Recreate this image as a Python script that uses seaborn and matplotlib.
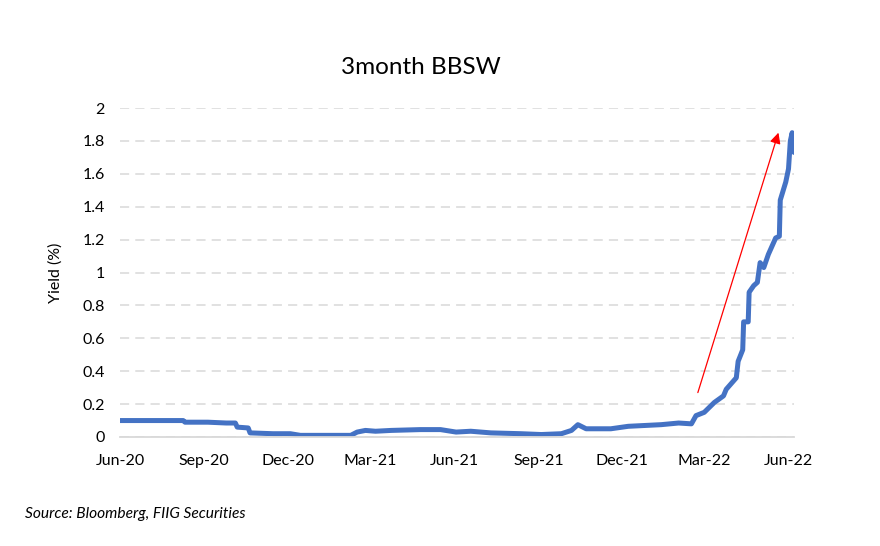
import matplotlib
matplotlib.use('Agg')
import matplotlib.pyplot as plt
import matplotlib.dates as mdates
import pandas as pd
import seaborn as sns

# 3 month BBSW yield (%)
dates = [
    '2020-06-01', '2020-06-20', '2020-07-15', '2020-08-09', '2020-08-11',
    '2020-09-05', '2020-09-25', '2020-10-05', '2020-10-07', '2020-10-19',
    '2020-10-21', '2020-11-15', '2020-12-04', '2020-12-15', '2021-01-10',
    '2021-02-08', '2021-02-15', '2021-02-24', '2021-03-07', '2021-03-24',
    '2021-04-25', '2021-05-17', '2021-06-03', '2021-06-19', '2021-07-11',
    '2021-08-13', '2021-09-04', '2021-09-26', '2021-10-07', '2021-10-14',
    '2021-10-23', '2021-11-19', '2021-12-08', '2022-01-13', '2022-02-01',
    '2022-02-15', '2022-02-20', '2022-03-01', '2022-03-12', '2022-03-22',
    '2022-03-25', '2022-04-05', '2022-04-07', '2022-04-12', '2022-04-13',
    '2022-04-18', '2022-04-19', '2022-04-24', '2022-04-28', '2022-05-01',
    '2022-05-05', '2022-05-10', '2022-05-18', '2022-05-22', '2022-05-23',
    '2022-05-29', '2022-06-01', '2022-06-03', '2022-06-05', '2022-06-07',
]
yields = [
    0.10, 0.10, 0.10, 0.10, 0.09,
    0.09, 0.085, 0.085, 0.06, 0.055,
    0.025, 0.02, 0.02, 0.01, 0.01,
    0.01, 0.03, 0.04, 0.035, 0.04,
    0.045, 0.045, 0.03, 0.035, 0.025,
    0.02, 0.015, 0.02, 0.04, 0.075,
    0.05, 0.05, 0.065, 0.075, 0.085,
    0.08, 0.13, 0.15, 0.21, 0.25,
    0.29, 0.36, 0.46, 0.53, 0.70,
    0.70, 0.88, 0.92, 0.94, 1.06,
    1.03, 1.11, 1.21, 1.22, 1.44,
    1.55, 1.63, 1.80, 1.85, 1.73,
]

arrow_start = ('2022-02-22', 0.27)
arrow_end = ('2022-05-21', 1.85)

title = '3month BBSW'
source = 'Source: Bloomberg, FIIG Securities'

df = pd.DataFrame({'date': pd.to_datetime(dates), 'yield': yields})

sns.set_style('white')
plt.rcParams['font.family'] = ['Lato', 'DejaVu Sans']
plt.rcParams['text.color'] = 'black'
plt.rcParams['axes.labelcolor'] = 'black'
plt.rcParams['xtick.labelcolor'] = 'black'
plt.rcParams['ytick.labelcolor'] = 'black'

fig = plt.figure(figsize=(8.8, 5.46), dpi=100)
ax = fig.add_axes([120 / 880, 1 - 437 / 546, 674 / 880, 329 / 546])

sns.lineplot(data=df, x='date', y='yield', ax=ax, color='#4472C4', linewidth=3.6,
             solid_joinstyle='round', solid_capstyle='round')

ax.set_ylim(0, 2)
ax.set_yticks([i / 10 for i in range(0, 21, 2)])
ax.set_yticklabels(['0', '0.2', '0.4', '0.6', '0.8', '1', '1.2', '1.4', '1.6', '1.8', '2'])
ax.set_xlim(pd.Timestamp('2020-06-01'), pd.Timestamp('2022-06-07'))
ax.xaxis.set_major_locator(mdates.MonthLocator(bymonth=[3, 6, 9, 12]))
ax.xaxis.set_major_formatter(mdates.DateFormatter('%b-%y'))

ax.yaxis.grid(True, color='#d9d9d9', linestyle=(0, (6, 4)), linewidth=1.1)
ax.set_axisbelow(True)
for s in ['top', 'right', 'left']:
    ax.spines[s].set_visible(False)
ax.spines['bottom'].set_color('#d9d9d9')
ax.spines['bottom'].set_linewidth(1.3)

ax.tick_params(axis='x', length=5, width=1.3, color='#d9d9d9', labelsize=11.5, pad=7)
ax.tick_params(axis='y', length=0, labelsize=11.5, pad=11)
ax.set_xlabel('')
ax.set_ylabel('Yield (%)', fontsize=11.5)
ax.yaxis.set_label_coords(-0.085, 0.5)

ax.annotate('', xy=(pd.Timestamp(arrow_end[0]), arrow_end[1]),
            xytext=(pd.Timestamp(arrow_start[0]), arrow_start[1]),
            arrowprops=dict(arrowstyle='-|>', color='#ff0000', lw=0.9,
                            mutation_scale=16, shrinkA=0, shrinkB=0))

fig.text(421 / 880, 1 - 68 / 546, title, ha='center', va='center', fontsize=17.5)
fig.text(25 / 880, 1 - 514 / 546, source, ha='left', va='center', fontsize=11.2, style='italic')

fig.savefig('out.png', dpi=100)
